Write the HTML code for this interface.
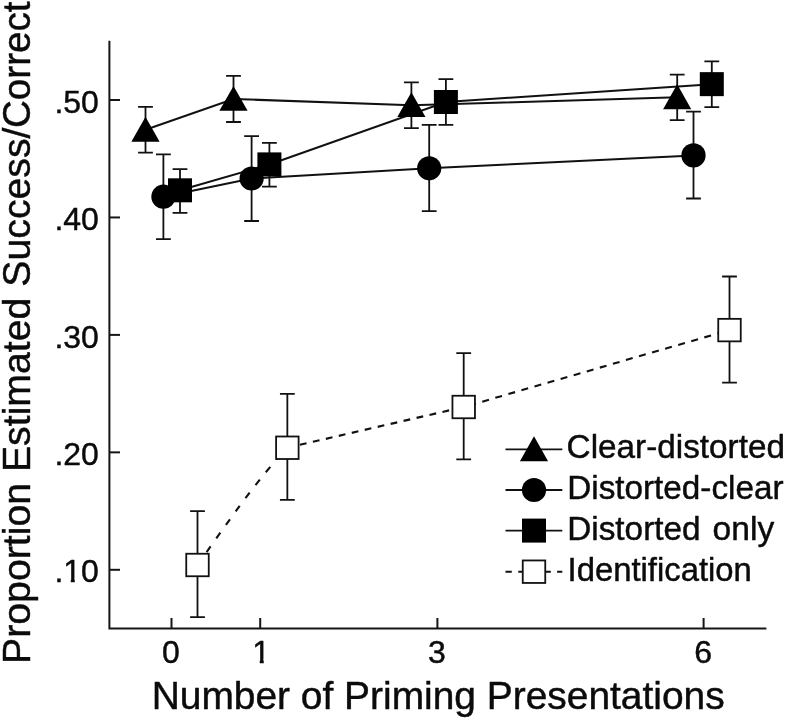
<!DOCTYPE html>
<html lang="en"><head><meta charset="utf-8"><title>Figure</title>
<style>
html,body{margin:0;padding:0;background:#fff;}
body{width:785px;height:719px;overflow:hidden;}
svg{display:block;filter:blur(0.55px);}
text{font-family:"Liberation Sans",Arial,Helvetica,sans-serif;fill:#0b0b0b;stroke:#0b0b0b;stroke-width:0.45px;stroke-linejoin:round;}
.ln{fill:none;stroke:#111;stroke-width:1.8;}
.sl{stroke-width:2.05;}
.ds{stroke-width:2.1;}
.wm{fill:#fff;stroke:none;}
.ax{fill:none;stroke:#161616;stroke-width:2;}
.mk{fill:#000;stroke:none;}
.op{fill:#fff;stroke:#111;stroke-width:1.8;}
.tk{font-size:32px;}
.tt{font-size:38.5px;}
.lg{font-size:32.5px;}
</style></head><body>
<svg width="785" height="719" viewBox="0 0 785 719">
<rect width="785" height="719" fill="#fff"/>
<g class="ax"><path d="M109.4 40.7V628.4H766.4"/>
<path d="M109.4 100.00H120"/>
<path d="M109.4 217.45H120"/>
<path d="M109.4 334.90H120"/>
<path d="M109.4 452.35H120"/>
<path d="M109.4 569.80H120"/>
<path d="M171.5 628.4V618"/>
<path d="M260.2 628.4V618"/>
<path d="M437.4 628.4V618"/>
<path d="M703.6 628.4V618"/>
</g>
<text class="tk" x="98.9" y="112.60" text-anchor="end">.50</text>
<text class="tk" x="98.9" y="230.05" text-anchor="end">.40</text>
<text class="tk" x="98.9" y="347.50" text-anchor="end">.30</text>
<text class="tk" x="98.9" y="464.95" text-anchor="end">.20</text>
<text class="tk" x="98.9" y="582.40" text-anchor="end">.10</text>
<text class="tk" x="171.0" y="662.6" text-anchor="middle">0</text>
<text class="tk" x="261.2" y="662.6" text-anchor="middle">1</text>
<text class="tk" x="436.79999999999995" y="662.6" text-anchor="middle">3</text>
<text class="tk" x="703.2" y="662.6" text-anchor="middle">6</text>
<g class="wm"><rect x="253" y="658.6" width="6.75" height="6.4"/><rect x="263.75" y="658.6" width="6.5" height="6.4"/><rect x="64" y="578.7" width="6.8" height="6.3"/><rect x="74.75" y="578.7" width="6.5" height="6.3"/></g>
<text id="xt" class="tt" x="151.7" y="709.0" textLength="573" lengthAdjust="spacingAndGlyphs">Number of Priming Presentations</text>
<text id="yt" class="tt" style="font-size:39px" transform="translate(30.2 664) rotate(-90)"><tspan x="0" textLength="536.5" lengthAdjust="spacingAndGlyphs">Proportion Estimated Success/</tspan><tspan x="536" textLength="126.5" lengthAdjust="spacingAndGlyphs">Correct</tspan></text>
<g class="ln">
<g class="sl"><polyline points="145.50,129.75 233.50,98.95 411.40,105.20 677.20,97.35"/><polyline points="163.40,196.70 251.60,178.50 429.20,168.30 693.50,155.40"/><polyline points="180.00,190.30 269.40,164.40 445.90,102.00 711.80,84.15"/></g>
<g class="ds"><path stroke-dasharray="6.9 9.6" stroke-dashoffset="0.3" d="M197.5 565.0C225 526 259 477 287.35 447.75"/>
<path stroke-dasharray="6.8 6.5" stroke-dashoffset="0.4" d="M287.35 447.75L463.7 407.0"/>
<path stroke-dasharray="7 6.6" stroke-dashoffset="7.9" d="M463.7 407.0L729.5 330.1"/></g>
<path d="M138.10 106.80H152.90M145.50 106.80V152.70M138.10 152.70H152.90"/>
<path d="M226.10 75.90H240.90M233.50 75.90V122.00M226.10 122.00H240.90"/>
<path d="M404.00 82.30H418.80M411.40 82.30V128.20M404.00 128.20H418.80"/>
<path d="M669.80 74.60H684.60M677.20 74.60V120.10M669.80 120.10H684.60"/>
<path d="M156.00 154.30H170.80M163.40 154.30V239.20M156.00 239.20H170.80"/>
<path d="M244.20 136.10H259.00M251.60 136.10V221.00M244.20 221.00H259.00"/>
<path d="M421.80 124.90H436.60M429.20 124.90V211.20M421.80 211.20H436.60"/>
<path d="M686.10 111.70H700.90M693.50 111.70V198.50M686.10 198.50H700.90"/>
<path d="M172.60 169.10H187.40M180.00 169.10V212.90M172.60 212.90H187.40"/>
<path d="M262.00 142.80H276.80M269.40 142.80V186.60M262.00 186.60H276.80"/>
<path d="M438.50 79.20H453.30M445.90 79.20V124.80M438.50 124.80H453.30"/>
<path d="M704.40 61.40H719.20M711.80 61.40V107.10M704.40 107.10H719.20"/>
<path d="M190.10 511.20H204.90M197.50 511.20V617.20M190.10 617.20H204.90"/>
<path d="M279.95 393.90H294.75M287.35 393.90V499.90M279.95 499.90H294.75"/>
<path d="M456.30 353.10H471.10M463.70 353.10V459.30M456.30 459.30H471.10"/>
<path d="M722.10 276.50H736.90M729.50 276.50V382.60M722.10 382.60H736.90"/>
</g>
<g class="mk">
<path d="M145.50 116.75L159.60 141.65H131.40Z"/>
<path d="M233.50 85.95L247.60 110.85H219.40Z"/>
<path d="M411.40 92.20L425.50 117.10H397.30Z"/>
<path d="M677.20 84.35L691.30 109.25H663.10Z"/>
<circle cx="163.40" cy="196.70" r="12.1"/>
<circle cx="251.60" cy="178.50" r="12.1"/>
<circle cx="429.20" cy="168.30" r="12.1"/>
<circle cx="693.50" cy="155.40" r="12.1"/>
<rect x="168.00" y="178.30" width="24" height="24"/>
<rect x="257.40" y="152.40" width="24" height="24"/>
<rect x="433.90" y="90.00" width="24" height="24"/>
<rect x="699.80" y="72.15" width="24" height="24"/>
</g><g class="op">
<rect x="186.25" y="553.75" width="22.5" height="22.5"/>
<rect x="276.10" y="436.50" width="22.5" height="22.5"/>
<rect x="452.45" y="395.75" width="22.5" height="22.5"/>
<rect x="718.25" y="318.85" width="22.5" height="22.5"/>
</g>
<g class="ln">
<path d="M505.5 449.3H562.3"/>
<path d="M505.5 490.0H562.3"/>
<path d="M505.5 530.6H562.3"/>
<path class="ds" d="M505.5 571.7H511.8M518.3 571.7H524M544 571.7H550.8M557.1 571.7H562.3"/>
</g><g class="mk">
<path d="M534.00 436.30L548.10 461.20H519.90Z"/>
<circle cx="534.00" cy="490.00" r="12.1"/>
<rect x="522.00" y="518.60" width="24" height="24"/>
</g><g class="op"><rect x="522.75" y="560.45" width="22.5" height="22.5"/></g>
<text id="lg0" class="lg" x="566.6" y="457.5" textLength="218.4" lengthAdjust="spacingAndGlyphs">Clear-distorted</text>
<text id="lg1" class="lg" x="567.3" y="498.5" textLength="216.2" lengthAdjust="spacingAndGlyphs">Distorted-clear</text>
<text id="lg2" class="lg" y="539.8"><tspan x="567.3" textLength="133.2" lengthAdjust="spacingAndGlyphs">Distorted</tspan> <tspan x="712.6" textLength="61.6" lengthAdjust="spacingAndGlyphs">only</tspan></text>
<text id="lg3" class="lg" x="567.6" y="580.8" textLength="184.2" lengthAdjust="spacingAndGlyphs">Identification</text>
</svg></body></html>
